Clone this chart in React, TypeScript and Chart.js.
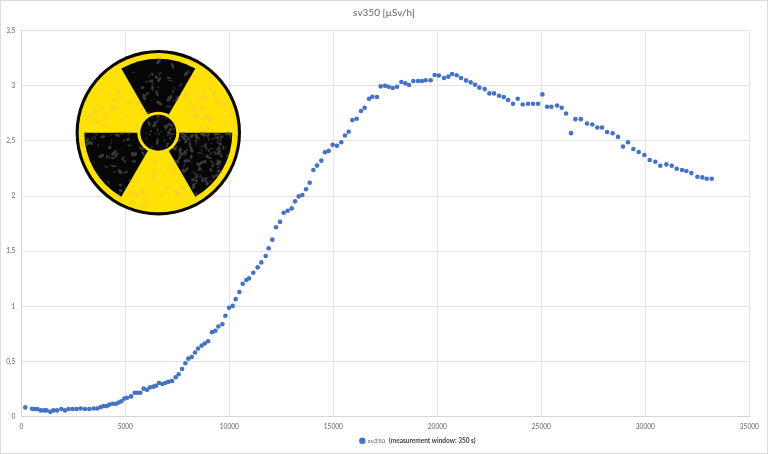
import React, { useEffect, useRef } from "react";
import { Chart, registerables } from "chart.js";

Chart.register(...registerables);

const seriesName = "sv350";
const chartTitle = "sv350 [µSv/h]";
const legendNote = "(measurement window: 350 s)";

const elapsedSeconds = [
  192, 513, 641, 770, 930, 1090, 1218, 1395, 1539, 1715, 1924, 2100, 2276, 2469, 2661, 2853, 3062, 3270, 3479, 3655,
  3815, 3960, 4104, 4232, 4392, 4553, 4681, 4809, 4953, 5081, 5274, 5450, 5595, 5723, 5883, 6043, 6188, 6348, 6476, 6620,
  6781, 6941, 7085, 7246, 7422, 7566, 7726, 7887, 8031, 8192, 8352, 8496, 8672, 8817, 8977, 9170, 9330, 9474, 9666, 9811,
  9987, 10162, 10306, 10482, 10643, 10819, 10947, 11155, 11364, 11540, 11749, 11893, 12069, 12246, 12438, 12615, 12807, 12999, 13160, 13336,
  13512, 13689, 13865, 14041, 14218, 14426, 14602, 14779, 14969, 15178, 15386, 15562, 15739, 15915, 16123, 16332, 16508, 16717, 16877, 17101,
  17278, 17486, 17662, 17855, 18063, 18271, 18464, 18640, 18849, 19073, 19265, 19442, 19682, 19874, 20075, 20323, 20531, 20708, 20932, 21140,
  21381, 21605, 21814, 22022, 22279, 22503, 22728, 22968, 23192, 23401, 23641, 23866, 24106, 24363, 24603, 24844, 25052, 25276, 25485, 25757,
  25982, 26190, 26430, 26639, 26900, 27198, 27454, 27695, 27919, 28160, 28432, 28688, 28929, 29170, 29426, 29682, 29955, 30211, 30484, 30724,
  31013, 31269, 31510, 31766, 31975, 32215, 32504, 32744, 32953, 33193,
];

const doseRate = [
  0.085, 0.073, 0.07, 0.07, 0.058, 0.058, 0.058, 0.045, 0.058, 0.058, 0.07, 0.058, 0.07, 0.07, 0.07, 0.075, 0.07, 0.07, 0.075, 0.075,
  0.088, 0.097, 0.097, 0.11, 0.118, 0.118, 0.13, 0.14, 0.165, 0.173, 0.185, 0.218, 0.218, 0.218, 0.255, 0.245, 0.267, 0.273, 0.282, 0.306,
  0.297, 0.309, 0.318, 0.324, 0.358, 0.385, 0.433, 0.485, 0.527, 0.542, 0.582, 0.618, 0.645, 0.664, 0.685, 0.767, 0.779, 0.818, 0.839, 0.915,
  0.987, 1.005, 1.066, 1.13, 1.205, 1.239, 1.254, 1.305, 1.354, 1.399, 1.457, 1.527, 1.605, 1.717, 1.766, 1.849, 1.867, 1.888, 1.952, 1.997,
  2.009, 2.061, 2.121, 2.236, 2.276, 2.321, 2.397, 2.409, 2.464, 2.455, 2.488, 2.549, 2.582, 2.688, 2.7, 2.77, 2.8, 2.882, 2.9, 2.897,
  2.994, 3.0, 2.991, 2.979, 2.991, 3.033, 3.021, 3.006, 3.043, 3.043, 3.043, 3.049, 3.049, 3.097, 3.092, 3.07, 3.082, 3.106, 3.094, 3.07,
  3.048, 3.03, 3.009, 2.982, 2.969, 2.93, 2.93, 2.909, 2.897, 2.87, 2.836, 2.882, 2.83, 2.836, 2.836, 2.836, 2.921, 2.809, 2.809, 2.821,
  2.8, 2.748, 2.57, 2.697, 2.697, 2.657, 2.648, 2.621, 2.621, 2.581, 2.569, 2.536, 2.448, 2.487, 2.427, 2.399, 2.372, 2.327, 2.311, 2.275,
  2.287, 2.275, 2.248, 2.236, 2.227, 2.208, 2.175, 2.169, 2.157, 2.157,
];

const FONT = "Lato, Carlito, 'Open Sans', sans-serif";
const GRID = "#e4e4e4";
const TEXT = "#666666";

// Stable pseudo-noise for the worn print texture of the emblem (decoration only).
function hash(n: number) {
  const s = Math.sin(n * 127.1 + 311.7) * 43758.5453;
  return s - Math.floor(s);
}

function blotches(ctx: CanvasRenderingContext2D, cx: number, cy: number, r: number, count: number, seed: number, color: string, size: number) {
  ctx.fillStyle = color;
  for (let i = 0; i < count; i++) {
    const a = hash(seed + i) * Math.PI * 2;
    const d = Math.sqrt(hash(seed + i + 0.37)) * r;
    const w = 0.4 + hash(seed + i + 0.71) * size;
    const h = 0.3 + hash(seed + i + 0.93) * size * 0.5;
    ctx.beginPath();
    ctx.ellipse(cx + Math.cos(a) * d, cy + Math.sin(a) * d, w, h, hash(seed + i + 0.11) * Math.PI, 0, Math.PI * 2);
    ctx.fill();
  }
}

const emblemPlugin = {
  id: "emblem",
  beforeDatasetsDraw(chart: any) {
    const ctx: CanvasRenderingContext2D = chart.ctx;
    const cx = 158.3, cy = 132.7;
    ctx.save();
    ctx.fillStyle = "#0a0a0a";
    ctx.beginPath(); ctx.arc(cx, cy, 82.7, 0, Math.PI * 2); ctx.fill();
    ctx.fillStyle = "#ffe205";
    ctx.beginPath(); ctx.arc(cx, cy, 79.6, 0, Math.PI * 2); ctx.fill();

    ctx.save();
    ctx.beginPath(); ctx.arc(cx, cy, 79.6, 0, Math.PI * 2); ctx.clip();
    blotches(ctx, cx, cy, 78, 230, 5, "#fcd61a", 5.5);
    ctx.restore();

    const blades: [number, number, number, number][] = [
      [-120, -60, 260, 11],
      [120, 180, 300, 23],
      [0, 60, 760, 37],
    ];
    for (const [from, to, count, seed] of blades) {
      const path = new Path2D();
      path.moveTo(cx, cy);
      path.arc(cx, cy, 74, (from * Math.PI) / 180, (to * Math.PI) / 180);
      path.closePath();
      ctx.fillStyle = "#060606";
      ctx.fill(path);
      ctx.save();
      ctx.clip(path);
      blotches(ctx, cx, cy, 74, count, seed, "#3a3a3a", 3.2);
      ctx.restore();
    }

    ctx.fillStyle = "#ffe205";
    ctx.beginPath(); ctx.arc(cx, cy, 21, 0, Math.PI * 2); ctx.fill();
    const hub = new Path2D();
    hub.arc(cx, cy, 18, 0, Math.PI * 2);
    ctx.fillStyle = "#060606";
    ctx.fill(hub);
    ctx.save();
    ctx.clip(hub);
    blotches(ctx, cx, cy, 18, 45, 51, "#3a3a3a", 2.4);
    ctx.restore();
    ctx.restore();
  },
};

const framePlugin = {
  id: "frame",
  beforeDraw(chart: any) {
    const ctx: CanvasRenderingContext2D = chart.ctx;
    ctx.save();
    ctx.fillStyle = "#ffffff";
    ctx.fillRect(0, 0, chart.width, chart.height);
    ctx.strokeStyle = "#dcdcdc";
    ctx.lineWidth = 1;
    ctx.strokeRect(0.5, 0.5, chart.width - 1, chart.height - 1);
    ctx.restore();
  },
  afterDraw(chart: any) {
    const ctx: CanvasRenderingContext2D = chart.ctx;
    ctx.save();
    ctx.fillStyle = "#3f3f3f";
    ctx.font = `700 6.5px ${FONT}`;
    ctx.textAlign = "left";
    ctx.textBaseline = "middle";
    ctx.fillText(legendNote, 389, 441);
    ctx.restore();
  },
  afterLayout(chart: any) {
    // The title is centred on the whole picture, not on the padded area.
    chart.titleBlock.left += 9.35;
    chart.titleBlock.right += 9.35;
    chart.legend.left -= 2;
    chart.legend.right -= 2;
  },
};

export default function App() {
  const ref = useRef<HTMLCanvasElement | null>(null);

  useEffect(() => {
    document.body.style.margin = "0";
    const chart = new Chart(ref.current as HTMLCanvasElement, {
      type: "scatter",
      data: {
        datasets: [
          {
            label: seriesName,
            data: elapsedSeconds.map((x, i) => ({ x, y: doseRate[i] })),
            backgroundColor: "#4472c4",
            borderColor: "#4472c4",
            pointRadius: 2.3,
            pointBorderWidth: 0,
          },
        ],
      },
      options: {
        responsive: false,
        animation: false,
        layout: { padding: { left: 0, right: 18.7, top: 0, bottom: 0 } },
        plugins: {
          title: {
            display: true,
            text: chartTitle,
            color: TEXT,
            font: { family: FONT, size: 10, weight: "normal" },
            padding: { top: 7, bottom: 11.5 },
          },
          legend: {
            position: "bottom",
            labels: {
              usePointStyle: true,
              pointStyle: "circle",
              boxWidth: 4.5,
              boxHeight: 4.5,
              padding: 3,
              color: TEXT,
              font: { family: FONT, size: 6.5 },
            },
          },
          tooltip: { enabled: false },
        },
        scales: {
          x: {
            type: "linear",
            min: 0,
            max: 35000,
            afterFit: (s: any) => { s.height = 17.7; },
            grid: { color: GRID, lineWidth: 1, drawTicks: false },
            border: { color: "#d6d6d6" },
            ticks: {
              stepSize: 5000,
              maxRotation: 0,
              padding: 6,
              color: TEXT,
              font: { family: FONT, size: 6.6 },
              callback: (v: any) => String(v),
            },
          },
          y: {
            type: "linear",
            min: 0,
            max: 3.5,
            afterFit: (s: any) => { s.width = 21.3; },
            grid: { color: GRID, lineWidth: 1, drawTicks: false },
            border: { color: "#d6d6d6" },
            ticks: {
              stepSize: 0.5,
              padding: 6,
              color: TEXT,
              font: { family: FONT, size: 6.6 },
              callback: (v: any) => String(v).replace(".", ","),
            },
          },
        },
      },
      plugins: [emblemPlugin, framePlugin],
    } as any);
    return () => chart.destroy();
  }, []);

  return <canvas ref={ref} width={768} height={454} style={{ display: "block" }} />;
}
